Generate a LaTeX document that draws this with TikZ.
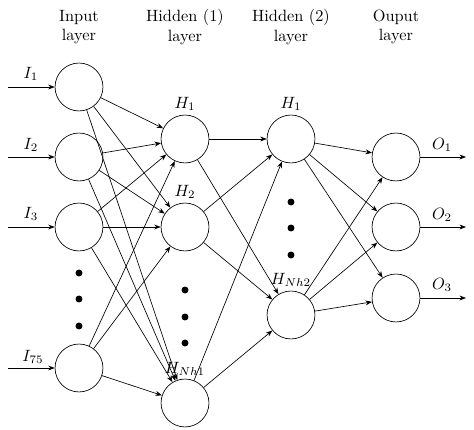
\documentclass[tikz,border=0pt]{standalone}
\usepackage{tikz}
\usetikzlibrary{arrows.meta}

\begin{document}
\begin{tikzpicture}[x=0.0215cm, y=-0.0215cm, >={Stealth[length=4pt, width=3pt]}]

\tikzset{neuron/.style={circle, draw, minimum size=1.03cm, inner sep=0pt}}
\tikzset{dot/.style={circle, fill, minimum size=0.15cm, inner sep=0pt}}

\useasboundingbox (0,0) rectangle (474,430);

% headers
\node[align=center] (hin)  at ( 79, 27) {Input\\layer};
\node[align=center] (hh1)  at (185, 27) {Hidden (1)\\layer};
\node[align=center] (hh2)  at (291, 27) {Hidden (2)\\layer};
\node[align=center] (hout) at (396, 27) {Ouput\\layer};

% input layer
\node[neuron] (i1)  at ( 79,  87) {};
\node[neuron] (i2)  at ( 79, 157) {};
\node[neuron] (i3)  at ( 79, 227) {};
\node[neuron] (i75) at ( 79, 368) {};
\node[dot] (id1) at ( 79, 273) {};
\node[dot] (id2) at ( 79, 299) {};
\node[dot] (id3) at ( 79, 326) {};

\coordinate (x1)  at (  8,  87);
\coordinate (x2)  at (  8, 157);
\coordinate (x3)  at (  8, 227);
\coordinate (x75) at (  8, 368);
\node (li1)  at ( 31,  74) {$I_1$};
\node (li2)  at ( 31, 145) {$I_2$};
\node (li3)  at ( 31, 214) {$I_3$};
\node (li75) at ( 33, 357) {$I_{75}$};

\draw[->] (x1) -- (i1);
\draw[->] (x2) -- (i2);
\draw[->] (x3) -- (i3);
\draw[->] (x75) -- (i75);

% hidden layer 1
\node[neuron] (a1)  at (185, 139) {};
\node[neuron] (a2)  at (185, 227) {};
\node[neuron] (anh) at (185, 403) {};
\node[dot] (ad1) at (185, 290) {};
\node[dot] (ad2) at (185, 317) {};
\node[dot] (ad3) at (185, 343) {};
\node (la1)  at (185, 104) {$H_1$};
\node (la2)  at (185, 192) {$H_2$};
\node (lanh) at (185, 369) {$H_{Nh1}$};

% hidden layer 2
\node[neuron] (b1)  at (291, 139) {};
\node[neuron] (bnh) at (291, 315) {};
\node[dot] (bd1) at (291, 202) {};
\node[dot] (bd2) at (291, 228) {};
\node[dot] (bd3) at (291, 255) {};
\node (lb1)  at (291, 104) {$H_1$};
\node (lbnh) at (291, 280) {$H_{Nh2}$};

% output layer
\node[neuron] (o1) at (396, 157) {};
\node[neuron] (o2) at (396, 227) {};
\node[neuron] (o3) at (396, 298) {};
\coordinate (y1) at (466, 157);
\coordinate (y2) at (466, 227);
\coordinate (y3) at (466, 298);
\node (lo1) at (442, 145) {$O_1$};
\node (lo2) at (442, 215) {$O_2$};
\node (lo3) at (442, 285) {$O_3$};

\draw[->] (o1) -- (y1);
\draw[->] (o2) -- (y2);
\draw[->] (o3) -- (y3);

% input -> hidden 1
\draw[->] (i1) -- (a1);
\draw[->] (i1) -- (a2);
\draw[->] (i1) -- (anh);
\draw[->] (i2) -- (a1);
\draw[->] (i2) -- (a2);
\draw[->] (i2) -- (anh);
\draw[->] (i3) -- (a1);
\draw[->] (i3) -- (a2);
\draw[->] (i3) -- (anh);
\draw[->] (i75) -- (a1);
\draw[->] (i75) -- (a2);
\draw[->] (i75) -- (anh);

% hidden 1 -> hidden 2
\draw[->] (a1) -- (b1);
\draw[->] (a1) -- (bnh);
\draw[->] (a2) -- (b1);
\draw[->] (a2) -- (bnh);
\draw[->] (anh) -- (b1);
\draw[->] (anh) -- (bnh);

% hidden 2 -> output
\draw[->] (b1) -- (o1);
\draw[->] (b1) -- (o2);
\draw[->] (b1) -- (o3);
\draw[->] (bnh) -- (o1);
\draw[->] (bnh) -- (o2);
\draw[->] (bnh) -- (o3);

\end{tikzpicture}
\end{document}
